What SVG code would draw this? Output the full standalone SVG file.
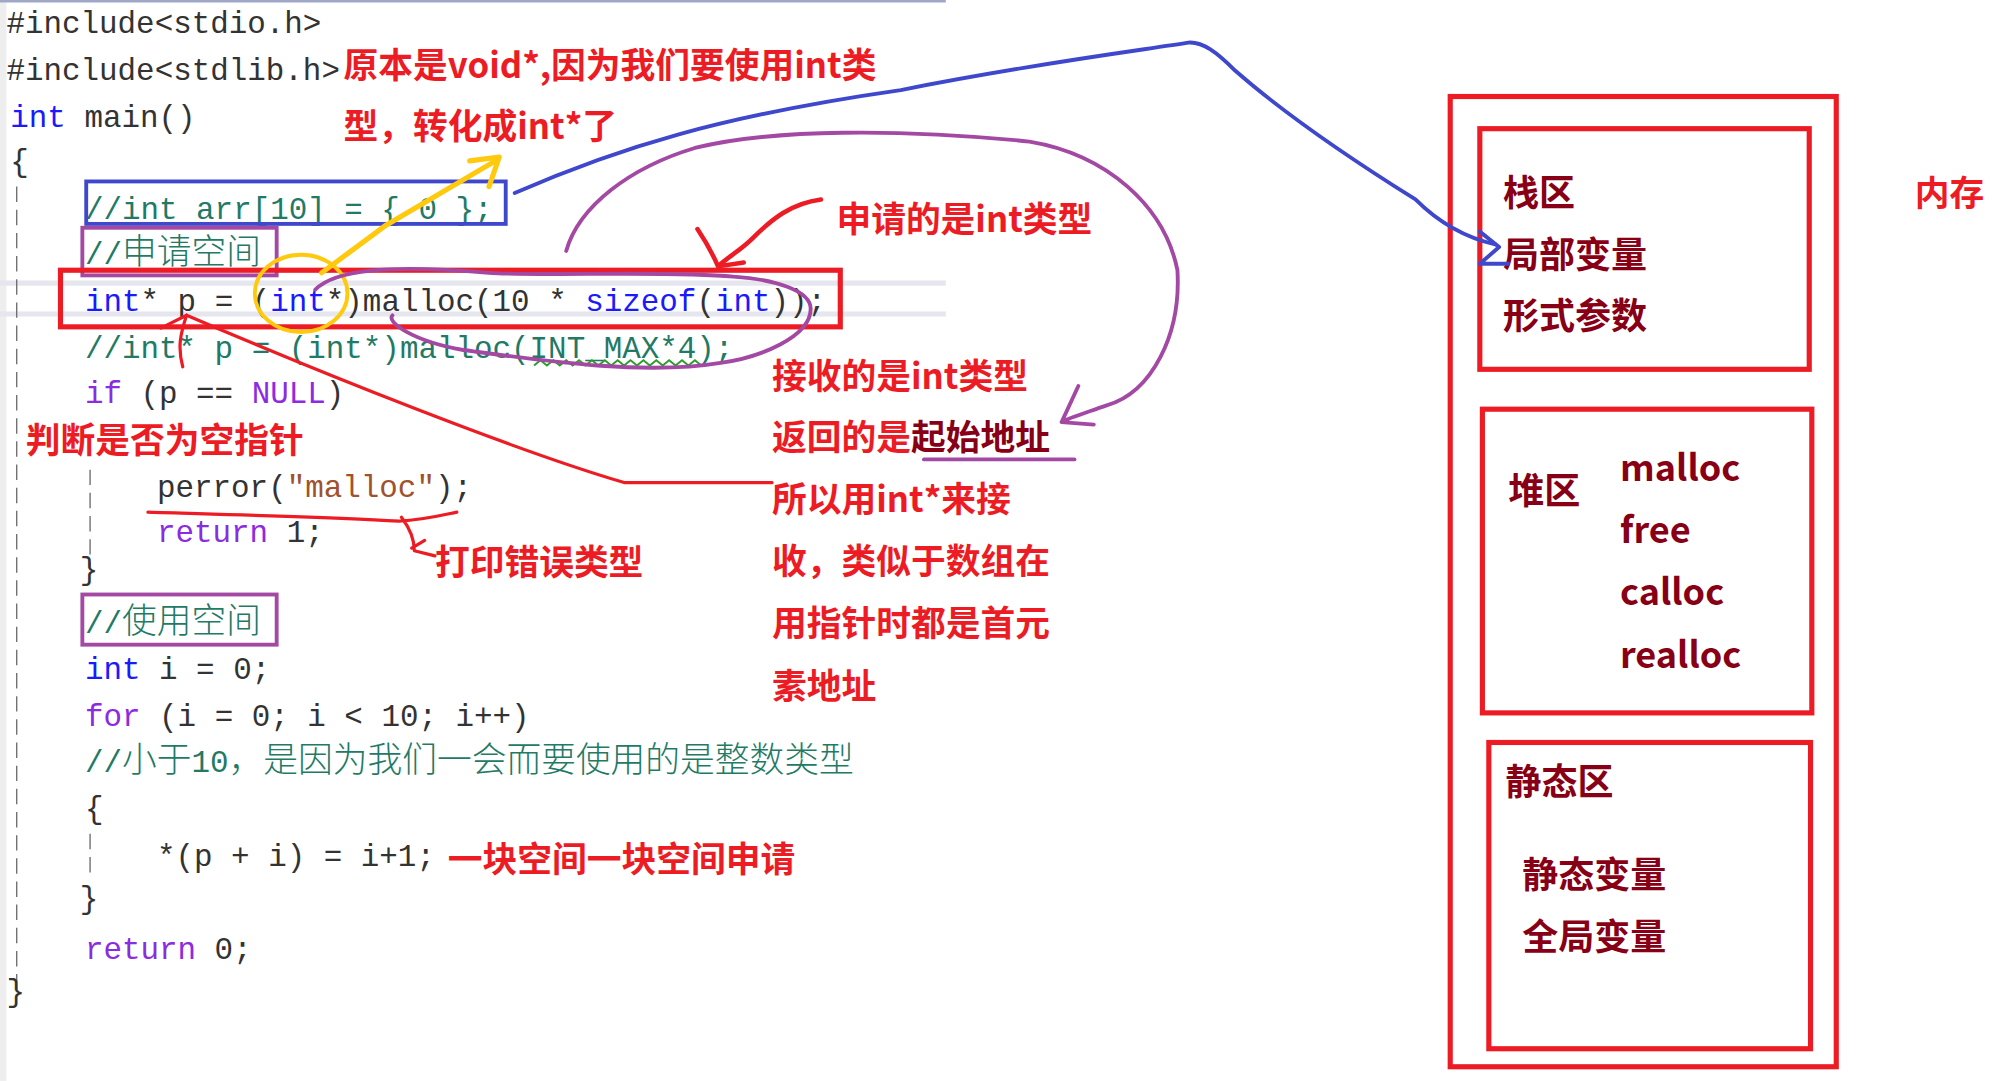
<svg xmlns="http://www.w3.org/2000/svg" width="2001" height="1081" viewBox="0 0 2001 1081">
<style>
.c{font-family:"Liberation Mono","Noto Sans CJK SC",monospace;font-size:24px}
.z{font-family:"Noto Sans CJK SC",sans-serif;font-size:27px;font-weight:300}
.d{fill:#333}.k{fill:#1a1aff}.g{fill:#1f7a66}.p{fill:#8b2be2}
.a{font-family:"Noto Sans CJK SC",sans-serif;font-weight:bold;font-size:27px;fill:#ed1c24}
.m{font-family:"Noto Sans CJK SC",sans-serif;font-weight:bold;font-size:28px;fill:#880015}
.rb{fill:none;stroke:#ed1c24;stroke-width:4}
</style>
<rect width="2001" height="1081" fill="#fff"/>
<g transform="scale(1.2868)">
<rect x="0" y="0" width="5" height="840" fill="#eee"/>
<line x1="0" y1="1" x2="735" y2="1" stroke="#a0a8c8" stroke-width="2"/>
<line x1="0" y1="220" x2="735" y2="220" stroke="#e6e6ee" stroke-width="4"/>
<line x1="0" y1="244" x2="735" y2="244" stroke="#e6e6ee" stroke-width="4"/>
<line x1="13" y1="145" x2="13" y2="770" stroke="#666" stroke-dasharray="12,6"/>
<line x1="70" y1="365" x2="70" y2="440" stroke="#666" stroke-dasharray="12,6"/>
<line x1="70" y1="648" x2="70" y2="680" stroke="#666" stroke-dasharray="12,6"/>
<g id="code">
<text class="c d" x="5" y="26">#include&lt;stdio.h&gt;</text>
<text class="c d" x="5" y="62">#include&lt;stdlib.h&gt;</text>
<text class="c" x="8" y="99"><tspan class="k">int</tspan><tspan class="d"> main()</tspan></text>
<text class="c d" x="8" y="133">{</text>
<text class="c g" x="66" y="170">//int arr[10] = { 0 };</text>
<text class="c g" x="66" y="205">//<tspan class="z">申请空间</tspan></text>
<text class="c" x="66" y="242"><tspan class="k">int</tspan><tspan class="d">* p = (</tspan><tspan class="k">int</tspan><tspan class="d">*)malloc(10 * </tspan><tspan class="k">sizeof</tspan><tspan class="d">(</tspan><tspan class="k">int</tspan><tspan class="d">));</tspan></text>
<text class="c g" x="66" y="278">//int* p = (int*)malloc(INT_MAX*4);</text>
<text class="c" x="66" y="313"><tspan class="p">if</tspan><tspan class="d"> (p == </tspan><tspan class="p">NULL</tspan><tspan class="d">)</tspan></text>
<text class="c" x="122" y="386"><tspan class="d">perror(</tspan><tspan fill="#a0522d">"malloc"</tspan><tspan class="d">);</tspan></text>
<text class="c" x="122" y="421"><tspan class="p">return</tspan><tspan class="d"> 1;</tspan></text>
<text class="c d" x="62" y="450">}</text>
<text class="c g" x="66" y="492">//<tspan class="z">使用空间</tspan></text>
<text class="c" x="66" y="528"><tspan class="k">int</tspan><tspan class="d"> i = 0;</tspan></text>
<text class="c" x="66" y="564"><tspan class="p">for</tspan><tspan class="d"> (i = 0; i &lt; 10; i++)</tspan></text>
<text class="c g" x="66" y="600">//<tspan class="z">小于</tspan>10<tspan class="z">，是因为我们一会而要使用的是整数类型</tspan></text>
<text class="c d" x="66" y="636">{</text>
<text class="c d" x="122" y="673">*(p + i) = i+1;</text>
<text class="c d" x="62" y="706">}</text>
<text class="c" x="66" y="745"><tspan class="p">return</tspan><tspan class="d"> 0;</tspan></text>
<text class="c d" x="5" y="778">}</text>
<path d="M415,284 l5,-4 5,4 5,-4 5,4 5,-4 5,4 5,-4 5,4 5,-4 5,4 5,-4 5,4 5,-4 5,4 5,-4 5,4 5,-4 5,4 5,-4 5,4 5,-4 5,4 5,-4 5,4 5,-4 5,4" fill="none" stroke="#2a9d2a" stroke-width="1.5"/>
</g>
<g id="boxes">
<rect x="67" y="141" width="326" height="33" fill="none" stroke="#3f48cc" stroke-width="3"/>
<rect x="64" y="177" width="151" height="37" fill="none" stroke="#a349a4" stroke-width="3"/>
<rect x="47" y="210" width="606" height="44" class="rb"/>
<rect x="64" y="462" width="151" height="39" fill="none" stroke="#a349a4" stroke-width="3"/>
</g>
<g id="annotations">
<text class="a" x="267" y="61">原本是void*,因为我们要使用int类</text>
<text class="a" x="267" y="108">型，转化成int*了</text>
<text class="a" x="650" y="180">申请的是int类型</text>
<text class="a" x="600" y="302">接收的是int类型</text>
<text class="a" x="600" y="350">返回的是<tspan fill="#880015">起始地址</tspan></text>
<text class="a" x="600" y="398">所以用int*来接</text>
<text class="a" x="600" y="446">收，类似于数组在</text>
<text class="a" x="600" y="494">用指针时都是首元</text>
<text class="a" x="600" y="543">素地址</text>
<text class="a" x="20" y="352">判断是否为空指针</text>
<text class="a" x="338" y="447">打印错误类型</text>
<text class="a" x="348" y="678">一块空间一块空间申请</text>
</g>
<g id="memory">
<rect x="1127" y="75" width="300" height="754" class="rb"/>
<rect x="1150" y="100" width="256" height="187" class="rb"/>
<rect x="1152" y="318" width="256" height="236" class="rb"/>
<rect x="1157" y="577" width="250" height="238" class="rb"/>
<text class="m" x="1168" y="160">栈区</text>
<text class="m" x="1168" y="208">局部变量</text>
<text class="m" x="1168" y="256">形式参数</text>
<text class="m" x="1172" y="392">堆区</text>
<text class="m" x="1259" y="374">malloc</text>
<text class="m" x="1259" y="422">free</text>
<text class="m" x="1259" y="470">calloc</text>
<text class="m" x="1259" y="519">realloc</text>
<text class="m" x="1170" y="618">静态区</text>
<text class="m" x="1183" y="690">静态变量</text>
<text class="m" x="1183" y="738">全局变量</text>
<text class="a" x="1488" y="160">内存</text>
</g>
<g id="connectors" fill="none" stroke-linecap="round" stroke-linejoin="round">
<path d="M400,150 C480,115 560,90 700,70 C800,50 880,40 925,33 C935,33 945,40 960,55 C1000,90 1060,130 1100,155 C1120,175 1140,185 1162,190" stroke="#3f48cc" stroke-width="3"/>
<path d="M1150,180 L1165,192 L1150,205 M1150,205 L1172,205" stroke="#3f48cc" stroke-width="3"/>
<ellipse cx="234" cy="228" rx="36" ry="30" stroke="#ffc90e" stroke-width="3"/>
<path d="M250,212 L300,175 L385,125 M365,125 L388,122 L380,145" stroke="#ffc90e" stroke-width="4"/>
<path d="M245,225 C260,210 300,205 380,212 C420,215 520,210 570,215 C600,217 630,225 630,240 C630,262 590,278 560,282 C500,292 420,280 360,272 C320,265 300,250 305,245 M440,195 C450,160 490,130 540,115 C600,100 700,100 800,110 C860,120 905,160 915,210 C918,260 895,305 860,315 C840,322 830,325 825,328 M838,300 L825,328 L850,330" stroke="#a349a4" stroke-width="3"/>
<line x1="718" y1="357" x2="835" y2="357" stroke="#a349a4" stroke-width="3"/>
<path d="M600,375 L485,375 C400,350 250,290 145,245 M145,245 C140,260 138,270 142,285 M145,245 L125,255" stroke="#ed1c24" stroke-width="2.5"/>
<path d="M115,398 C180,400 260,402 310,405 C330,404 345,400 355,398 M312,402 C318,410 322,420 322,428 L338,432 M320,426 L330,420" stroke="#ed1c24" stroke-width="2.5"/>
<path d="M638,155 C615,158 600,170 585,185 C575,195 565,200 558,207 M542,178 C550,190 555,200 558,207 L578,204" stroke="#ed1c24" stroke-width="3.5"/>
</g>
</g>
</svg>
